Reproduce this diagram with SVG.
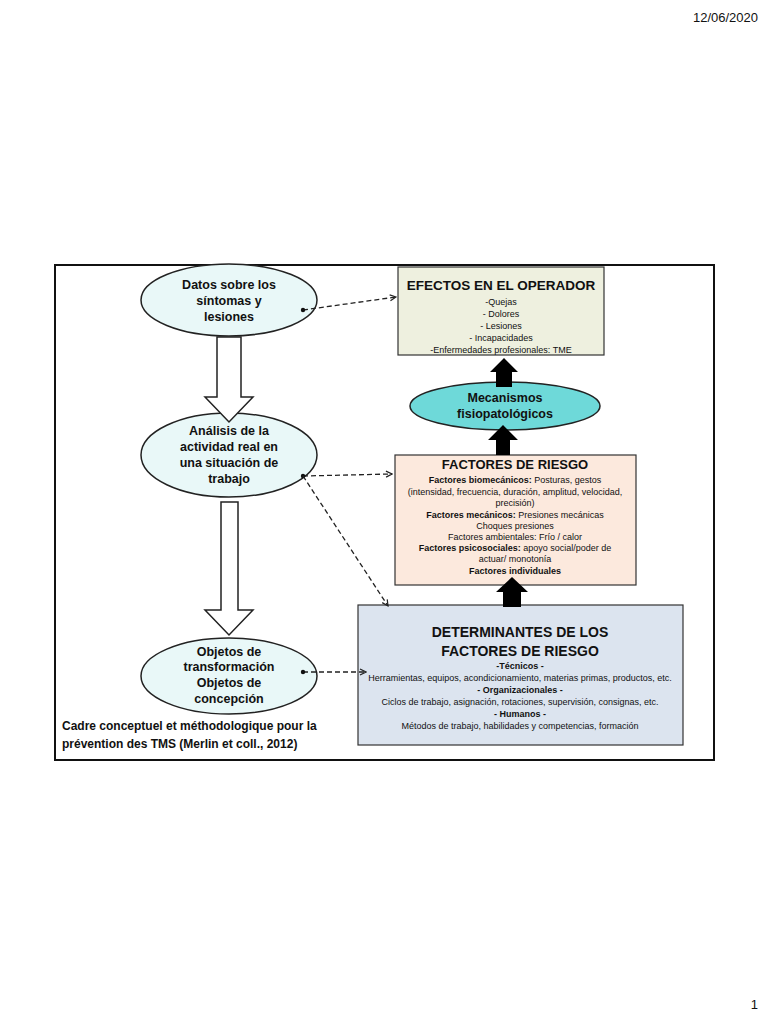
<svg xmlns="http://www.w3.org/2000/svg" width="768" height="1024" viewBox="0 0 768 1024">
<defs>
<style>
text{font-family:"Liberation Sans",Arial,sans-serif;fill:#111;text-anchor:middle}
.b{font-weight:bold}
.e{stroke:#222;stroke-width:1.5}
.d{stroke:#222;stroke-width:1.3;stroke-dasharray:5,3;fill:none}
.s{font-size:9px}
</style>
<marker id="oa" markerWidth="8" markerHeight="8" refX="7" refY="4" orient="auto" markerUnits="userSpaceOnUse"><path d="M1,1 L7,4 L1,7" fill="none" stroke="#222" stroke-width="1.2"/></marker>
<marker id="dot" markerWidth="6" markerHeight="6" refX="3" refY="3" markerUnits="userSpaceOnUse"><circle cx="3" cy="3" r="2.2" fill="#111"/></marker>
</defs>
<rect width="768" height="1024" fill="#fff"/>
<text x="758" y="22" style="text-anchor:end;font-size:13px">12/06/2020</text>
<text x="758" y="1009" style="text-anchor:end;font-size:13px">1</text>
<rect x="55" y="265" width="659" height="495" fill="none" stroke="#111" stroke-width="2"/>

<g id="n-datos"><ellipse cx="229" cy="300" rx="88" ry="36" fill="#e9f8f8" class="e"/>
<text class="b" font-size="12.5" x="229" y="289">Datos sobre los</text><text class="b" font-size="12.5" x="229" y="305">síntomas y</text><text class="b" font-size="12.5" x="229" y="321">lesiones</text></g>
<g id="n-analisis"><ellipse cx="229" cy="455" rx="88" ry="42" fill="#e9f8f8" class="e"/>
<text class="b" font-size="12.5" x="229" y="435">Análisis de la</text><text class="b" font-size="12.5" x="229" y="451">actividad real en</text><text class="b" font-size="12.5" x="229" y="467">una situación de</text><text class="b" font-size="12.5" x="229" y="483">trabajo</text></g>
<g id="n-objetos"><ellipse cx="229" cy="676" rx="88" ry="38" fill="#e9f8f8" class="e"/>
<text class="b" font-size="12.5" x="229" y="656">Objetos de</text><text class="b" font-size="12.5" x="229" y="671">transformación</text><text class="b" font-size="12.5" x="229" y="687">Objetos de</text><text class="b" font-size="12.5" x="229" y="703">concepción</text></g>
<g id="caption"><text class="b" font-size="12" x="62" y="730" style="text-anchor:start">Cadre conceptuel et méthodologique pour la</text><text class="b" font-size="12" x="62" y="748" style="text-anchor:start">prévention des TMS (Merlin et coll., 2012)</text></g>

<g id="n-efectos"><rect x="398" y="267" width="206" height="88" fill="#eef0df" stroke="#333" stroke-width="1.2"/>
<text class="b" font-size="13.5" x="501" y="290">EFECTOS EN EL OPERADOR</text>
<text class="s" x="501" y="305">-Quejas</text><text class="s" x="501" y="317">- Dolores</text><text class="s" x="501" y="329">- Lesiones</text><text class="s" x="501" y="341">- Incapacidades</text><text class="s" x="501" y="353">-Enfermedades profesionales: TME</text></g>
<g id="n-mecanismos"><ellipse cx="505" cy="406" rx="95" ry="24" fill="#6ed9d9" class="e"/>
<text class="b" font-size="12.5" x="505" y="402">Mecanismos</text><text class="b" font-size="12.5" x="505" y="418">fisiopatológicos</text></g>
<g id="n-factores"><rect x="395" y="455" width="241" height="130" fill="#fce9dd" stroke="#333" stroke-width="1.2"/>
<text class="b" font-size="13" x="515" y="469">FACTORES DE RIESGO</text>
<text class="s" x="515" y="483"><tspan class="b">Factores biomecánicos:</tspan> Posturas, gestos</text>
<text class="s" x="515" y="495">(intensidad, frecuencia, duración, amplitud, velocidad,</text>
<text class="s" x="515" y="506">precisión)</text>
<text class="s" x="515" y="518"><tspan class="b">Factores mecánicos:</tspan> Presiones mecánicas</text>
<text class="s" x="515" y="529">Choques presiones</text>
<text class="s" x="515" y="540">Factores ambientales: Frío / calor</text>
<text class="s" x="515" y="551"><tspan class="b">Factores psicosociales:</tspan> apoyo social/poder de</text>
<text class="s" x="515" y="562">actuar/ monotonía</text>
<text class="s b" x="515" y="574">Factores individuales</text></g>
<g id="n-determinantes"><rect x="358" y="605" width="325" height="140" fill="#dce4ef" stroke="#333" stroke-width="1.2"/>
<text class="b" font-size="14" x="520" y="637">DETERMINANTES DE LOS</text><text class="b" font-size="14" x="520" y="656">FACTORES DE RIESGO</text>
<text class="s b" x="520" y="669">-Técnicos -</text>
<text class="s" x="520" y="681" font-size="8.5">Herramientas, equipos, acondicionamiento, materias primas, productos, etc.</text>
<text class="s b" x="520" y="693">- Organizacionales -</text>
<text class="s" x="520" y="705">Ciclos de trabajo, asignación, rotaciones, supervisión, consignas, etc.</text>
<text class="s b" x="520" y="717">- Humanos -</text>
<text class="s" x="520" y="729">Métodos de trabajo, habilidades y competencias, formación</text></g>

<g id="connectors">
<path d="M217,337 H241 V397 H253 L229,422 L205,397 H217 Z" fill="#fff" stroke="#222" stroke-width="1.5"/>
<path d="M221,502 H238 V610 H253 L229,635 L205,610 H221 Z" fill="#fff" stroke="#222" stroke-width="1.5"/>
<path d="M496,387 V372 H490 L504,358 L518,372 H512 V387 Z" fill="#000"/>
<path d="M496,455 V440 H488 L503,425 L518,440 H510 V455 Z" fill="#000"/>
<path d="M503,607 V592 H496 L512,577 L528,592 H521 V607 Z" fill="#000"/>
<path class="d" d="M303,310 L396,297" marker-start="url(#dot)" marker-end="url(#oa)"/>
<path class="d" d="M303,476 L392,474" marker-start="url(#dot)" marker-end="url(#oa)"/>
<path class="d" d="M303,476 L388,606" marker-end="url(#oa)"/>
<path class="d" d="M303,672 L366,672" marker-start="url(#dot)" marker-end="url(#oa)"/>
</g>
</svg>
